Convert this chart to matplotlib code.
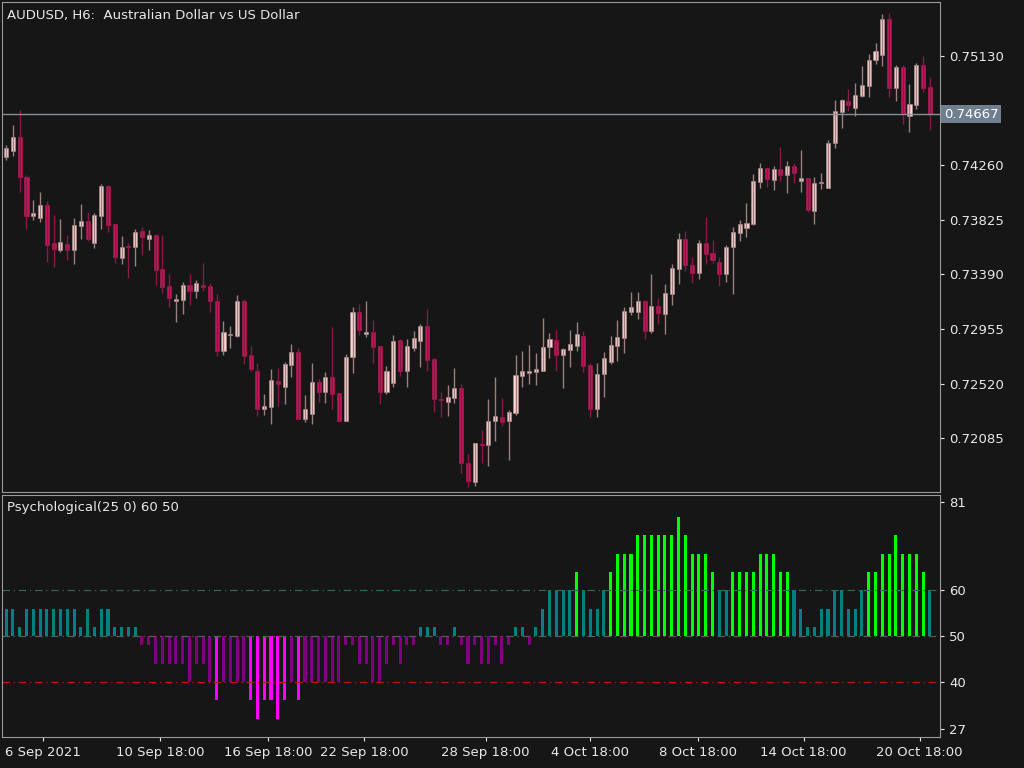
import numpy as np
import matplotlib
matplotlib.use("Agg")
import matplotlib.pyplot as plt

BG = "#161616"; FG = "#e8e8e8"; FRAME = "#9a9a9a"
BULL = "#ffd3d3"; BULL_WICK = "#9a8080"; BEAR = "#c2185b"; BEAR_WICK = "#8a1846"

# AUDUSD H6 candles (open, close, high, low)
opens = [0.74325, 0.74373, 0.74485, 0.74166, 0.73855, 0.73839, 0.73943, 0.73640, 0.73584, 0.73632,
         0.73584, 0.73776, 0.73815, 0.73640, 0.73855, 0.74094, 0.73791, 0.73521, 0.73616, 0.73608,
         0.73736, 0.73672, 0.73704, 0.73433, 0.73298, 0.73178, 0.73186, 0.73306, 0.73258, 0.73306,
         0.73298, 0.73178, 0.72780, 0.72907, 0.72899, 0.73178, 0.72748, 0.72620, 0.72318, 0.72334,
         0.72541, 0.72493, 0.72668, 0.72772, 0.72238, 0.72278, 0.72533, 0.72453, 0.72573, 0.72445,
         0.72222, 0.72732, 0.73090, 0.72915, 0.72931, 0.72820, 0.72453, 0.72525, 0.72867, 0.72620,
         0.72804, 0.72859, 0.72979, 0.72716, 0.72397, 0.72374, 0.72405, 0.72485, 0.71887, 0.71736,
         0.72039, 0.72031, 0.72222, 0.72254, 0.72222, 0.72286, 0.72581, 0.72604, 0.72612, 0.72620,
         0.72812, 0.72867, 0.72748, 0.72788, 0.72820, 0.72899, 0.72668, 0.72318, 0.72597, 0.72692,
         0.72820, 0.72883, 0.73090, 0.73090, 0.73178, 0.72939, 0.73138, 0.73074, 0.73234, 0.73433,
         0.73672, 0.73465, 0.73401, 0.73640, 0.73560, 0.73489, 0.73393, 0.73608, 0.73720, 0.73760,
         0.73791, 0.74126, 0.74238, 0.74142, 0.74230, 0.74182, 0.74254, 0.74134, 0.74158, 0.73895,
         0.74118, 0.74078, 0.74437, 0.74684, 0.74771, 0.74716, 0.74811, 0.74891, 0.75098, 0.75138,
         0.75425, 0.74875, 0.75042, 0.74648, 0.74739, 0.75058, 0.74883]
closes = [0.74397, 0.74485, 0.74166, 0.73855, 0.73879, 0.73943, 0.73624, 0.73592, 0.73648, 0.73584,
          0.73784, 0.73815, 0.73672, 0.73863, 0.74094, 0.73784, 0.73529, 0.73608, 0.73608, 0.73728,
          0.73688, 0.73704, 0.73425, 0.73290, 0.73202, 0.73194, 0.73306, 0.73258, 0.73321, 0.73290,
          0.73178, 0.72780, 0.72931, 0.72915, 0.73178, 0.72740, 0.72636, 0.72318, 0.72342, 0.72549,
          0.72517, 0.72676, 0.72772, 0.72238, 0.72318, 0.72533, 0.72453, 0.72573, 0.72437, 0.72222,
          0.72732, 0.73090, 0.72947, 0.72931, 0.72812, 0.72453, 0.72620, 0.72859, 0.72620, 0.72820,
          0.72883, 0.72979, 0.72708, 0.72397, 0.72389, 0.72413, 0.72485, 0.71887, 0.71744, 0.72047,
          0.72031, 0.72222, 0.72262, 0.72214, 0.72294, 0.72589, 0.72620, 0.72620, 0.72636, 0.72812,
          0.72875, 0.72748, 0.72796, 0.72836, 0.72915, 0.72660, 0.72318, 0.72597, 0.72724, 0.72828,
          0.72891, 0.73098, 0.73130, 0.73178, 0.72939, 0.73138, 0.73082, 0.73242, 0.73441, 0.73672,
          0.73465, 0.73401, 0.73640, 0.73552, 0.73505, 0.73393, 0.73608, 0.73728, 0.73791, 0.73799,
          0.74134, 0.74238, 0.74150, 0.74230, 0.74182, 0.74254, 0.74198, 0.74158, 0.73903, 0.74118,
          0.74126, 0.74437, 0.74692, 0.74779, 0.74739, 0.74819, 0.74899, 0.75098, 0.75170, 0.75425,
          0.74875, 0.75042, 0.74664, 0.74747, 0.75058, 0.74875, 0.74667]
highs = [0.74421, 0.74580, 0.74700, 0.74182, 0.73983, 0.74046, 0.73975, 0.73863, 0.73831, 0.73704,
         0.73839, 0.73951, 0.73887, 0.73879, 0.74110, 0.74102, 0.73791, 0.73696, 0.73640, 0.73752,
         0.73768, 0.73744, 0.73712, 0.73704, 0.73393, 0.73234, 0.73329, 0.73393, 0.73345, 0.73481,
         0.73321, 0.73234, 0.73019, 0.72979, 0.73226, 0.73194, 0.72820, 0.72684, 0.72437, 0.72636,
         0.72644, 0.72692, 0.72836, 0.72804, 0.72429, 0.72684, 0.72557, 0.72612, 0.72971, 0.72445,
         0.72756, 0.73130, 0.73154, 0.73178, 0.73027, 0.72820, 0.72660, 0.72907, 0.72875, 0.72875,
         0.72939, 0.72995, 0.73114, 0.72724, 0.72453, 0.72509, 0.72644, 0.72517, 0.71959, 0.72047,
         0.72150, 0.72397, 0.72573, 0.72405, 0.72310, 0.72748, 0.72780, 0.72828, 0.72764, 0.73043,
         0.72923, 0.72947, 0.72804, 0.72947, 0.73011, 0.72939, 0.72684, 0.72684, 0.72772, 0.72899,
         0.73027, 0.73130, 0.73250, 0.73250, 0.73186, 0.73393, 0.73202, 0.73313, 0.73473, 0.73720,
         0.73736, 0.73529, 0.73664, 0.73847, 0.73664, 0.73529, 0.73624, 0.73768, 0.73823, 0.73959,
         0.74190, 0.74278, 0.74238, 0.74254, 0.74405, 0.74293, 0.74278, 0.74381, 0.74158, 0.74166,
         0.74198, 0.74461, 0.74779, 0.74787, 0.74867, 0.74915, 0.75050, 0.75146, 0.75234, 0.75464,
         0.75472, 0.75058, 0.75058, 0.74907, 0.75074, 0.75130, 0.74963]
lows = [0.74301, 0.74333, 0.74046, 0.73752, 0.73823, 0.73807, 0.73489, 0.73449, 0.73568, 0.73505,
        0.73473, 0.73672, 0.73656, 0.73600, 0.73752, 0.73728, 0.73481, 0.73473, 0.73361, 0.73457,
        0.73545, 0.73584, 0.73306, 0.73242, 0.73130, 0.73011, 0.73074, 0.73146, 0.73202, 0.73258,
        0.73090, 0.72740, 0.72748, 0.72804, 0.72891, 0.72676, 0.72620, 0.72262, 0.72270, 0.72198,
        0.72342, 0.72358, 0.72573, 0.72238, 0.72214, 0.72198, 0.72374, 0.72366, 0.72318, 0.72222,
        0.72222, 0.72604, 0.72907, 0.72891, 0.72684, 0.72358, 0.72437, 0.72493, 0.72581, 0.72493,
        0.72780, 0.72652, 0.72620, 0.72294, 0.72254, 0.72262, 0.72366, 0.71808, 0.71696, 0.71704,
        0.71887, 0.71863, 0.72063, 0.72182, 0.71911, 0.72270, 0.72493, 0.72517, 0.72509, 0.72620,
        0.72724, 0.72620, 0.72485, 0.72652, 0.72780, 0.72612, 0.72254, 0.72254, 0.72413, 0.72676,
        0.72700, 0.72764, 0.73066, 0.73035, 0.72875, 0.72923, 0.72995, 0.72915, 0.73146, 0.73313,
        0.73417, 0.73321, 0.73353, 0.73473, 0.73481, 0.73298, 0.73329, 0.73234, 0.73656, 0.73688,
        0.73784, 0.74078, 0.74086, 0.74062, 0.74134, 0.74038, 0.74118, 0.74046, 0.73887, 0.73791,
        0.74070, 0.74078, 0.74397, 0.74556, 0.74692, 0.74648, 0.74803, 0.74803, 0.75066, 0.75050,
        0.74803, 0.74771, 0.74588, 0.74528, 0.74707, 0.74843, 0.74544]

# Psychological(25) values
psy = [56, 56, 52, 56, 56, 56, 56, 56, 56, 56, 56, 52, 56, 52, 56, 56, 52, 52, 52, 52,
       48, 48, 44, 44, 44, 44, 44, 40, 44, 44, 40, 36, 40, 40, 40, 40, 36, 32, 36, 36,
       32, 36, 40, 36, 40, 40, 40, 40, 40, 40, 48, 48, 44, 44, 40, 40, 44, 48, 44, 48,
       48, 52, 52, 52, 48, 48, 52, 48, 44,
       48, 44, 44, 48, 44, 48, 52, 52, 48, 52, 56, 60, 60, 60, 60, 64, 60, 56, 56, 60,
       64, 68, 68, 68, 72, 72, 72, 72, 72, 72, 76, 72, 68, 68, 68, 64, 60, 60, 64, 64,
       64, 64, 68, 68, 68, 64, 64, 60, 56, 52, 52, 56, 56, 60, 60, 56, 56, 60, 64, 64,
       68, 68, 72, 68, 68, 68, 64, 60]

tick_pos = [5.4, 22.7, 38.6, 52.7, 70.6, 85.9, 101.9, 117.4, 134.5]
tick_lab = ["6 Sep 2021", "10 Sep 18:00", "16 Sep 18:00", "22 Sep 18:00", "28 Sep 18:00",
            "4 Oct 18:00", "8 Oct 18:00", "14 Oct 18:00", "20 Oct 18:00"]
price_ticks = [0.75130, 0.74260, 0.73825, 0.73390, 0.72955, 0.72520, 0.72085]

o = np.array(opens); c = np.array(closes); h = np.array(highs); l = np.array(lows)
x = np.arange(len(o))
up = c >= o

plt.rcParams.update({"font.family": "DejaVu Sans", "font.size": 9})
fig = plt.figure(figsize=(10.24, 7.68), dpi=100, facecolor=BG)
ax = fig.add_axes([0.002, 1 - 492 / 768, 938 / 1024, 490 / 768], facecolor=BG)
ax2 = fig.add_axes([0.002, 1 - 737 / 768, 938 / 1024, 242 / 768], facecolor=BG)

for a in (ax, ax2):
    for s in a.spines.values():
        s.set_color(FRAME); s.set_linewidth(0.8)
    a.yaxis.tick_right()
    a.tick_params(colors=FG, labelsize=9.5, length=3, direction="out")
    a.set_xlim(-0.6, len(o) + 0.5)

# candles
ax.vlines(x[up], l[up], h[up], color=BULL_WICK, lw=1)
ax.vlines(x[~up], l[~up], h[~up], color=BEAR_WICK, lw=1)
body = np.maximum(np.abs(c - o), 0.00003)
ax.bar(x[up], body[up], bottom=np.minimum(o, c)[up], width=0.6, color=BULL, edgecolor="#b09090", lw=0.4)
ax.bar(x[~up], body[~up], bottom=np.minimum(o, c)[~up], width=0.6, color=BEAR, edgecolor=BEAR, lw=0.4)
ax.set_ylim(0.71656, 0.75560)
ax.set_yticks(price_ticks)
ax.set_yticklabels([f"{p:.5f}" for p in price_ticks])
ax.set_xticks([])
last = closes[-1]
ax.axhline(last, color="#8a8f96", lw=1)
ax.text(1.004, last, f"{last:.5f}", transform=ax.get_yaxis_transform(), va="center", ha="left",
        fontsize=9.5, color="white", bbox=dict(boxstyle="square,pad=0.2", fc="#6f7f8f", ec="none"),
        clip_on=False)
ax.text(0.005, 0.985, "AUDUSD, H6:  Australian Dollar vs US Dollar", transform=ax.transAxes,
        color=FG, fontsize=9.5, va="top")

# indicator
p = np.array(psy[:len(o)], dtype=float)
cols = np.where(p > 60, "#00ff00", np.where(p >= 50, "#008080", np.where(p >= 40, "#800080", "#ff00ff")))
ax2.bar(x, p - 50, bottom=50, width=0.45, color=cols)
ax2.axhline(60, color="#2e6b4a", lw=0.9, ls=(0, (6, 3, 1, 3)))
ax2.axhline(50, color="#5a5a5a", lw=0.9, ls=(0, (6, 3, 1, 3)))
ax2.axhline(40, color="#c01010", lw=0.9, ls=(0, (6, 3, 1, 3)))
ax2.set_ylim(28.0, 80.8)
ax2.set_yticks([79.2, 60, 50, 40, 29.8])
ax2.set_yticklabels(["81", "60", "50", "40", "27"])
ax2.set_xticks(tick_pos)
ax2.set_xticklabels(tick_lab)
ax2.text(0.005, 0.975, "Psychological(25 0) 60 50", transform=ax2.transAxes, color=FG,
         fontsize=9.5, va="top")

fig.savefig("out.png", dpi=100, facecolor=BG)
